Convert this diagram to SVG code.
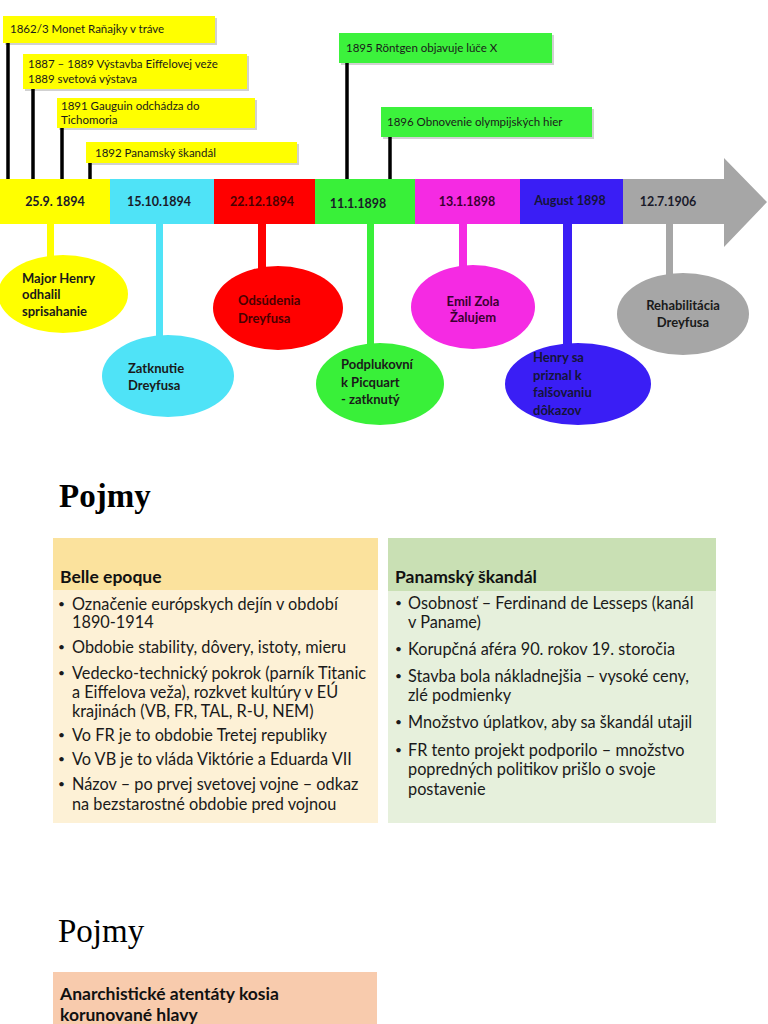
<svg xmlns="http://www.w3.org/2000/svg" width="768" height="1024" viewBox="0 0 768 1024">
<defs>
<style>
.ev{font-family:Lato,"Liberation Sans",sans-serif;font-size:11.5px;fill:#1a1a1a}
.dt{font-family:Lato,"Liberation Sans",sans-serif;font-size:12.5px;font-weight:bold;fill:#1a1a2a;text-anchor:middle}
.nt{font-family:Lato,"Liberation Sans",sans-serif;font-size:13px;font-weight:bold;fill:#1a1a1a}
.ntc{text-anchor:middle}
.ttl{font-family:"Liberation Serif","Times New Roman",serif;fill:#000}
.hd{font-family:Lato,"Liberation Sans",sans-serif;font-size:17.5px;font-weight:bold;fill:#111}
.bl{font-family:Lato,"Liberation Sans",sans-serif;font-size:16.3px;fill:#1a1a1a}
.bu{font-size:12px}
.sh{fill:#000;opacity:0.18}
.tick{stroke:#000;stroke-width:3.5}
</style>
</defs>
<rect width="768" height="1024" fill="#fff"/>

<g id="connectors">
<line class="tick" x1="8" y1="43" x2="8" y2="180"/>
<line class="tick" x1="33" y1="89" x2="33" y2="180"/>
<line class="tick" x1="62" y1="128" x2="62" y2="180"/>
<line class="tick" x1="90" y1="163" x2="90" y2="180"/>
<line class="tick" x1="347" y1="63" x2="347" y2="180"/>
<line class="tick" x1="390" y1="137" x2="390" y2="180"/>
<rect x="47" y="224" width="7" height="33" fill="#ffff00"/>
<rect x="156" y="224" width="7" height="113" fill="#4fe3f7"/>
<rect x="258" y="224" width="8" height="45" fill="#ff0000"/>
<rect x="367" y="224" width="7" height="121" fill="#39f039"/>
<rect x="459" y="224" width="8" height="43" fill="#f52ae3"/>
<rect x="563" y="224" width="9" height="121" fill="#3a1ef5"/>
<rect x="666" y="224" width="7" height="51" fill="#a6a6a6"/>
</g>

<g id="event-monet">
<rect class="sh" x="5" y="18" width="212" height="27"/>
<rect x="3" y="16" width="212" height="27" fill="#ffff00"/>
<text class="ev" x="10" y="33">1862/3 Monet Raňajky v tráve</text>
</g>
<g id="event-eiffel">
<rect class="sh" x="25" y="56" width="224" height="35"/>
<rect x="23" y="54" width="224" height="35" fill="#ffff00"/>
<text class="ev" x="28" y="68">1887 – 1889 Výstavba Eiffelovej veže</text>
<text class="ev" x="28" y="83">1889 svetová výstava</text>
</g>
<g id="event-gauguin">
<rect class="sh" x="59" y="100" width="198" height="30"/>
<rect x="57" y="98" width="198" height="30" fill="#ffff00"/>
<text class="ev" x="61" y="110">1891 Gauguin odchádza do</text>
<text class="ev" x="61" y="124">Tichomoria</text>
</g>
<g id="event-panama">
<rect class="sh" x="88" y="144" width="211" height="21"/>
<rect x="86" y="142" width="211" height="21" fill="#ffff00"/>
<text class="ev" x="95" y="157">1892 Panamský škandál</text>
</g>
<g id="event-rontgen">
<rect class="sh" x="341" y="35" width="213" height="30"/>
<rect x="339" y="33" width="213" height="30" fill="#3cf23c"/>
<text class="ev" x="346" y="52">1895 Röntgen objavuje lúče X</text>
</g>
<g id="event-olymp">
<rect class="sh" x="383" y="109" width="211" height="30"/>
<rect x="381" y="107" width="211" height="30" fill="#3cf23c"/>
<text class="ev" x="387" y="126">1896 Obnovenie olympijských hier</text>
</g>

<g id="timeline">
<rect x="0" y="179" width="110" height="45" fill="#ffff00"/>
<rect x="110" y="179" width="104" height="45" fill="#4fe3f7"/>
<rect x="214" y="179" width="101" height="45" fill="#ff0000"/>
<rect x="315" y="179" width="100" height="45" fill="#39f039"/>
<rect x="415" y="179" width="105" height="45" fill="#f52ae3"/>
<rect x="520" y="179" width="103" height="45" fill="#3a1ef5"/>
<polygon points="623,179 724,179 724,158 767,202 724,247 724,224 623,224" fill="#a6a6a6"/>
<text class="dt" x="55" y="206">25.9. 1894</text>
<text class="dt" x="159" y="206">15.10.1894</text>
<text class="dt" x="262" y="206" style="fill:#4a0000">22.12.1894</text>
<text class="dt" x="358" y="208">11.1.1898</text>
<text class="dt" x="467" y="206" style="fill:#3a0030">13.1.1898</text>
<text class="dt" x="570" y="205" style="fill:#14143a">August 1898</text>
<text class="dt" x="668" y="206">12.7.1906</text>
</g>

<g id="node-henry">
<ellipse cx="63" cy="294" rx="65" ry="39" fill="#ffff00"/>
<text class="nt" x="22" y="283">Major Henry</text>
<text class="nt" x="22" y="299">odhalil</text>
<text class="nt" x="22" y="316">sprisahanie</text>
</g>
<g id="node-zatknutie">
<ellipse cx="168" cy="376" rx="66" ry="41" fill="#4fe3f7"/>
<text class="nt" x="128" y="373">Zatknutie</text>
<text class="nt" x="128" y="390">Dreyfusa</text>
</g>
<g id="node-odsudenie">
<ellipse cx="278" cy="308" rx="65" ry="42" fill="#ff0000"/>
<text class="nt" x="238" y="305" style="fill:#4a0000">Odsúdenia</text>
<text class="nt" x="238" y="323" style="fill:#4a0000">Dreyfusa</text>
</g>
<g id="node-picquart">
<ellipse cx="380" cy="384" rx="64" ry="41" fill="#39f039"/>
<text class="nt" x="341" y="369">Podplukovní</text>
<text class="nt" x="341" y="387">k Picquart</text>
<text class="nt" x="341" y="404">- zatknutý</text>
</g>
<g id="node-zola">
<ellipse cx="473" cy="307" rx="62" ry="42" fill="#f52ae3"/>
<text class="nt ntc" x="473" y="306" style="fill:#3a0030">Emil Zola</text>
<text class="nt ntc" x="473" y="322" style="fill:#3a0030">Žalujem</text>
</g>
<g id="node-henry-priznal">
<ellipse cx="578" cy="384" rx="73" ry="41" fill="#3a1ef5"/>
<text class="nt" x="533" y="362" style="fill:#14143a">Henry sa</text>
<text class="nt" x="533" y="380" style="fill:#14143a">priznal k</text>
<text class="nt" x="533" y="397" style="fill:#14143a">falšovaniu</text>
<text class="nt" x="533" y="415" style="fill:#14143a">dôkazov</text>
</g>
<g id="node-rehabilitacia">
<ellipse cx="683" cy="314" rx="66" ry="41" fill="#a6a6a6"/>
<text class="nt ntc" x="683" y="310">Rehabilitácia</text>
<text class="nt ntc" x="683" y="327">Dreyfusa</text>
</g>

<text class="ttl" x="59" y="507" font-size="33" font-weight="bold">Pojmy</text>

<g id="box-belle">
<rect x="53" y="590" width="325" height="233" fill="#fdf1d6"/>
<rect x="53" y="538" width="325" height="52" fill="#fbe29d"/>
<text class="hd" x="60" y="583">Belle epoque</text>
<g class="bl">
<text class="bu" x="58" y="608">•</text><text x="72" y="610">Označenie európskych dejín v období</text>
<text x="72" y="628">1890-1914</text>
<text class="bu" x="58" y="651">•</text><text x="72" y="653">Obdobie stability, dôvery, istoty, mieru</text>
<text class="bu" x="58" y="677">•</text><text x="72" y="679">Vedecko-technický pokrok (parník Titanic</text>
<text x="72" y="698">a Eiffelova veža), rozkvet kultúry v EÚ</text>
<text x="72" y="717">krajinách (VB, FR, TAL, R-U, NEM)</text>
<text class="bu" x="58" y="739">•</text><text x="72" y="741">Vo FR je to obdobie Tretej republiky</text>
<text class="bu" x="58" y="763">•</text><text x="72" y="765">Vo VB je to vláda Viktórie a Eduarda VII</text>
<text class="bu" x="58" y="788">•</text><text x="72" y="790">Názov – po prvej svetovej vojne – odkaz</text>
<text x="72" y="810">na bezstarostné obdobie pred vojnou</text>
</g>
</g>

<g id="box-panama">
<rect x="388" y="591" width="328" height="232" fill="#e6f0dc"/>
<rect x="388" y="538" width="328" height="53" fill="#c9e0b4"/>
<text class="hd" x="395" y="583">Panamský škandál</text>
<g class="bl">
<text class="bu" x="395" y="607">•</text><text x="408" y="609">Osobnosť – Ferdinand de Lesseps (kanál</text>
<text x="408" y="628">v Paname)</text>
<text class="bu" x="395" y="653">•</text><text x="408" y="655">Korupčná aféra 90. rokov 19. storočia</text>
<text class="bu" x="395" y="680">•</text><text x="408" y="682">Stavba bola nákladnejšia – vysoké ceny,</text>
<text x="408" y="701">zlé podmienky</text>
<text class="bu" x="395" y="726">•</text><text x="408" y="728">Množstvo úplatkov, aby sa škandál utajil</text>
<text class="bu" x="395" y="754">•</text><text x="408" y="756">FR tento projekt podporilo – množstvo</text>
<text x="408" y="775">popredných politikov prišlo o svoje</text>
<text x="408" y="795">postavenie</text>
</g>
</g>

<text class="ttl" x="58" y="942" font-size="33">Pojmy</text>

<g id="box-anarchist">
<rect x="53" y="972" width="324" height="52" fill="#f8cbad"/>
<text class="hd" x="60" y="1000" style="font-size:17.5px">Anarchistické atentáty kosia</text>
<text class="hd" x="60" y="1021" style="font-size:17.5px">korunované hlavy</text>
</g>
</svg>
